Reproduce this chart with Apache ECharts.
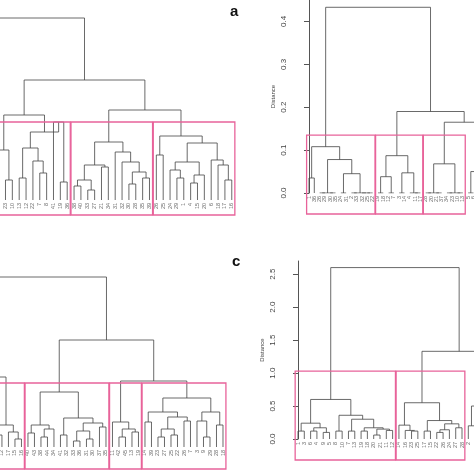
<!DOCTYPE html>
<html><head><meta charset="utf-8">
<script src="https://cdn.jsdelivr.net/npm/echarts@6/dist/echarts.min.js"></script>
<style>html,body{margin:0;background:#fff}#c{width:474px;height:474px}</style>
</head><body><div id="c"></div>
<script>
// trees: [height, left, right], leaf = 0
const treeA1 = [182,
  [100, [60, 0, 0], [70, [30, 0, 0], 0]],
  [120,
    [85, [50, 0, [20, 0, 0]], [68, [52, [22, 0, 0], [39, 0, [27, 0, 0]]], [78, 0, [18, 0, 0]]]],
    [90,
      [58, [35, [20, [14, 0, 0], [10, 0, 0]], [33, 0, 0]], [48, 0, [38, 0, [28, [16, 0, 0], [22, 0, 0]]]]],
      [64, [45, 0, 0], [57, [38, [30, 0, [22, 0, 0]], [25, [17, 0, 0], 0]], [40, 0, [35, 0, [20, 0, 0]]]]]]]]
const labelsA1 = [3,5,9,2,11,14,23,10,13,12,22,7,8,41,19,36,38,40,33,27,21,34,31,32,30,28,35,39,26,25,24,29,1,4,15,20,6,18,17,16]
const boxesA1 = [[5, 15, 78], [16, 27, 78], [28, 39, 78]]

const treeA2 = [0.433,
  [0.108, [0.035, 0, 0], [0.078, [0, [0, 0, 0], [0, 0, 0]], [0.045, [0, 0, 0], [0, [0, 0, 0], [0, 0, [0, 0, 0]]]]]],
  [0.19,
    [0.087, [0.038, [0, 0, 0], [0, 0, 0]], [0.047, [0, 0, 0], [0, 0, [0, 0, 0]]]],
    [0.165,
      [0.068, [0, [0, 0, 0], [0, 0, 0]], [0, [0, 0, 0], [0, 0, 0]]],
      [0.12, [0.05, [0, 0, 0], [0, 0, 0]], [0, 0, 0]]]]]
const labelsA2 = [1,36,26,29,30,35,24,31,2,33,32,25,22,19,18,12,7,3,14,4,11,17,28,20,21,37,34,23,10,13,5,6,9,8,16,15]
const boxesA2 = [[0, 12, 0.135], [13, 21, 0.135], [22, 29, 0.135]]

const treeC1 = [170,
  [70, [40, [30, 0, 0], [35, 0, 0]], [22, [12, 0, 0], [15, 0, [8, 0, 0]]]],
  [107,
    [55, [22, [14, 0, 0], [18, [10, 0, 0], 0]], [29, [12, 0, 0], [24, [16, [6, 0, 0], [8, 0, 0]], [20, 0, 0]]]],
    [66,
      [25, 0, [18, [10, 0, 0], [15, 0, 0]]],
      [49, [35, [25, 0, 0], [30, [18, [10, 0, 0], [12, 0, 0]], [26, 0, 0]]], [35, [26, 0, [10, 0, 0]], [22, 0, 0]]]]]]
const labelsC1 = [1,4,6,2,8,12,17,15,16,40,43,38,44,34,41,32,33,36,31,30,37,35,11,42,45,13,19,14,39,23,27,25,22,26,7,3,9,29,28,18]
const boxesC1 = [[0, 8, 64], [9, 21, 64], [22, 26, 64], [27, 39, 64]]

const treeC2 = [2.6,
  [0.6, [0.24, [0.12, 0, 0], [0.17, [0.12, 0, 0], [0.1, 0, 0]]],
        [0.36, [0.12, 0, 0], [0.3, [0.12, 0, 0], [0.17, [0.12, 0, 0], [0.15, [0.06, 0, 0], [0.13, 0, 0]]]]]],
  [1.33,
    [0.55, [0.21, 0, [0.13, 0, [0.12, 0, 0]]], [0.28, [0.12, 0, 0], [0.23, [0.14, [0.1, 0, 0], 0], [0.17, 0, 0]]]],
    [0.9, [0.5, [0.2, 0, 0], [0.3, 0, [0.1, 0, 0]]], [0.6, [0.3, 0, [0.1, 0, 0]], [0.4, 0, [0.2, 0, 0]]]]]]
const labelsC2 = [1,3,6,4,9,5,8,10,7,13,19,18,20,21,11,12,14,16,23,25,17,15,22,26,24,27,28,2,29,30,31,32,33,34,35,36,37,38]
const boxesC2 = [[0, 15, 1.03], [16, 26, 1.03]]

const chart = echarts.init(document.getElementById('c'))

function layout(tree) {
  const segs = [], leaves = []
  function walk(n) {
    if (!Array.isArray(n)) { const x = leaves.length; leaves.push(x); return {x: x, h: 0} }
    const l = walk(n[1]), r = walk(n[2])
    segs.push([l.x, l.h], [l.x, n[0]], [r.x, n[0]], [r.x, r.h], null)
    return {x: (l.x + r.x) / 2, h: n[0]}
  }
  walk(tree)
  return {segs, leaves}
}

const panels = [
  {tree: treeA1, labels: labelsA1, boxes: boxesA1, grid: {left: 0, top: 0, width: 240, height: 200}, x: [5.2, 40.2], y: [0, 200], axis: false, drop: 15},
  {tree: treeA2, labels: labelsA2, boxes: boxesA2, grid: {left: 296, top: 0, width: 178, height: 193}, x: [-2.45, 31.1], y: [0, 0.45], axis: true, step: 0.1, drop: 21},
  {tree: treeC1, labels: labelsC1, boxes: boxesC1, grid: {left: 0, top: 247, width: 236, height: 200}, x: [4.7, 41], y: [0, 200], axis: false, drop: 22},
  {tree: treeC2, labels: labelsC2, boxes: boxesC2, grid: {left: 285, top: 261, width: 189, height: 178}, x: [-2.06, 27.9], y: [0, 2.7], axis: true, step: 0.5, drop: 21}
]

const grids = [], xAxes = [], yAxes = [], series = []
panels.forEach((p, i) => {
  const lay = layout(p.tree)
  grids.push(p.grid)
  xAxes.push({type: 'value', gridIndex: i, min: p.x[0], max: p.x[1], show: false})
  yAxes.push({
    type: 'value', gridIndex: i, min: p.y[0], max: p.y[1], show: p.axis, interval: p.step,
    splitLine: {show: false},
    axisLine: {show: p.axis, lineStyle: {color: '#555'}},
    axisTick: {show: p.axis, lineStyle: {color: '#555'}},
    axisLabel: {rotate: 90, fontSize: 8, color: '#444', fontFamily: 'Liberation Sans', showMaxLabel: false,
      formatter: v => v.toFixed(1)},
    name: p.axis ? 'Distance' : '', nameLocation: 'middle', nameGap: 20, nameRotate: 90,
    nameTextStyle: {fontSize: 6, color: '#444'}
  })
  series.push({
    type: 'line', xAxisIndex: i, yAxisIndex: i, data: lay.segs, symbol: 'none', connectNulls: false,
    lineStyle: {color: '#444', width: 0.8}, clip: true, animation: false
  })
  series.push({
    type: 'scatter', xAxisIndex: i, yAxisIndex: i, symbolSize: 0, animation: false,
    data: lay.leaves.map(x => [x, 0, String(p.labels[x])]),
    label: {show: true, position: 'bottom', distance: 3, rotate: 90, align: 'right', verticalAlign: 'middle',
      fontSize: 5.5, color: '#444', formatter: d => d.value[2]}
  })
})

chart.setOption({
  animation: false,
  grid: grids, xAxis: xAxes, yAxis: yAxes, series: series
})

const gfx = [
  {type: 'text', left: 230, top: 4, style: {text: 'a', font: 'bold 15px Liberation Sans', fill: '#111'}},
  {type: 'text', left: 232, top: 254, style: {text: 'c', font: 'bold 15px Liberation Sans', fill: '#111'}}
]
panels.forEach((p, i) => {
  p.boxes.forEach(b => {
    const a = chart.convertToPixel({gridIndex: i}, [b[0] - 0.45, b[2]])
    const c = chart.convertToPixel({gridIndex: i}, [b[1] + 0.45, 0])
    gfx.push({type: 'rect', shape: {x: a[0], y: a[1], width: c[0] - a[0], height: c[1] + p.drop - a[1]},
      style: {fill: 'none', stroke: '#e8639a', lineWidth: 1.3}, z: 10})
  })
})
chart.setOption({graphic: gfx})
</script>
</body></html>
